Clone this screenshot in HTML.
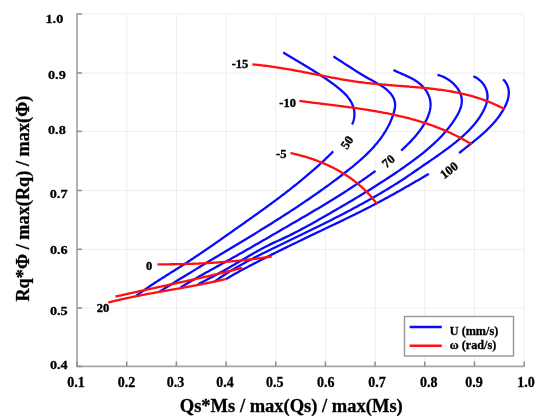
<!DOCTYPE html>
<html><head><meta charset="utf-8"><title>Contour plot</title>
<style>
html,body{margin:0;padding:0;background:#fff;}
body{width:550px;height:419px;overflow:hidden;}
svg{display:block;}
text{font-family:"Liberation Serif","Times New Roman",serif;font-weight:bold;fill:#000;stroke:#000;stroke-width:0.3px;}
.tk{font-size:14px;}
.lg{font-size:12.2px;}
.cl{font-size:12.5px;stroke:#000;stroke-width:0.35px;}
.ti{font-size:18.5px;}
.tiy{font-size:18.3px;}
</style></head><body>
<svg width="550" height="419" viewBox="0 0 550 419">
<g stroke="#eeeeee" stroke-width="1"><line x1="126.7" y1="14.0" x2="126.7" y2="366.4"/><line x1="176.4" y1="14.0" x2="176.4" y2="366.4"/><line x1="226.1" y1="14.0" x2="226.1" y2="366.4"/><line x1="275.8" y1="14.0" x2="275.8" y2="366.4"/><line x1="325.4" y1="14.0" x2="325.4" y2="366.4"/><line x1="375.1" y1="14.0" x2="375.1" y2="366.4"/><line x1="424.8" y1="14.0" x2="424.8" y2="366.4"/><line x1="474.5" y1="14.0" x2="474.5" y2="366.4"/><line x1="524.2" y1="14.0" x2="524.2" y2="366.4"/><line x1="77.0" y1="14.0" x2="524.2" y2="14.0"/><line x1="77.0" y1="73.0" x2="524.2" y2="73.0"/><line x1="77.0" y1="131.4" x2="524.2" y2="131.4"/><line x1="77.0" y1="190.5" x2="524.2" y2="190.5"/><line x1="77.0" y1="249.3" x2="524.2" y2="249.3"/><line x1="77.0" y1="308.0" x2="524.2" y2="308.0"/></g>
<g fill="none" stroke="#0a0aff" stroke-width="2.3" stroke-linecap="butt" stroke-linejoin="round"><path d="M283.21,52.49L283.79,52.85L284.37,53.20L284.96,53.55L285.54,53.90L286.12,54.25L286.71,54.60L287.29,54.95L287.88,55.30L288.46,55.65L289.04,56.00L289.63,56.34L290.21,56.69L290.79,57.04L291.38,57.39L291.96,57.73L292.54,58.08L293.13,58.42L293.71,58.77L294.29,59.12L294.87,59.46L295.46,59.81L296.04,60.15L296.62,60.50L297.20,60.84L297.79,61.19L298.37,61.54L298.95,61.88L299.53,62.23L300.12,62.57L300.70,62.92L301.28,63.27L301.86,63.62L302.44,63.96L303.02,64.31L303.60,64.66L304.18,65.01L304.76,65.36L305.34,65.71L305.92,66.06L306.50,66.41L307.08,66.76L307.66,67.11L308.24,67.46L308.82,67.81L309.40,68.17L309.97,68.52L310.55,68.88L311.13,69.23L311.71,69.59L312.28,69.95L312.86,70.31L313.43,70.67L314.01,71.03L314.59,71.39L315.16,71.75L315.74,72.12L316.31,72.48L316.88,72.85L317.46,73.21L318.03,73.58L318.60,73.95L319.18,74.32L319.75,74.69L320.32,75.07L320.89,75.44L321.46,75.82L322.03,76.20L322.60,76.57L323.17,76.95L323.74,77.34L324.31,77.72L324.88,78.11L325.44,78.49L326.01,78.88L326.58,79.27L327.14,79.66L327.71,80.05L328.27,80.45L328.84,80.85L329.40,81.25L329.96,81.65L330.53,82.05L331.09,82.45L331.65,82.86L332.21,83.27L332.77,83.68L333.33,84.09L333.89,84.50L334.45,84.92L335.01,85.34L335.56,85.76L336.11,86.19L336.67,86.61L337.21,87.04L337.76,87.47L338.30,87.91L338.84,88.35L339.37,88.79L339.90,89.23L340.43,89.68L340.95,90.13L341.47,90.58L341.98,91.04L342.48,91.50L342.98,91.97L343.48,92.44L343.96,92.91L344.44,93.39L344.91,93.87L345.38,94.36L345.84,94.84L346.28,95.34L346.72,95.84L347.16,96.34L347.58,96.85L347.99,97.36L348.40,97.88L348.79,98.40L349.17,98.93L349.55,99.46L349.91,100.00L350.26,100.55L350.60,101.10L350.92,101.65L351.24,102.21L351.54,102.78L351.83,103.35L352.11,103.92L352.37,104.51L352.62,105.09L352.85,105.69L353.07,106.28L353.28,106.89L353.47,107.50L353.64,108.11L353.80,108.73L353.94,109.36L354.06,109.99L354.17,110.63L354.25,111.27L354.33,111.92L354.38,112.57L354.41,113.23L354.42,113.89L354.42,114.56L354.39,115.24L354.35,115.92L354.28,116.61L354.20,117.30L354.09,118.00L353.96,118.70L353.81,119.41L353.63,120.12L353.44,120.84L353.22,121.57L352.98,122.30L352.71,123.03L352.42,123.77L352.10,124.52"/><path d="M333.22,151.42L332.13,152.52L331.03,153.61L329.93,154.69L328.83,155.77L327.72,156.85L326.61,157.92L325.49,158.98L324.37,160.05L323.24,161.10L322.11,162.15L320.98,163.20L319.84,164.25L318.70,165.28L317.56,166.32L316.41,167.35L315.26,168.38L314.10,169.40L312.94,170.42L311.78,171.43L310.62,172.44L309.45,173.45L308.28,174.45L307.10,175.45L305.92,176.44L304.74,177.44L303.55,178.42L302.37,179.41L301.17,180.39L299.98,181.37L298.78,182.34L297.59,183.32L296.38,184.28L295.18,185.25L293.97,186.21L292.76,187.17L291.55,188.13L290.33,189.08L289.12,190.03L287.90,190.98L286.68,191.93L285.45,192.87L284.23,193.81L283.00,194.75L281.77,195.68L280.54,196.62L279.30,197.55L278.07,198.47L276.83,199.40L275.59,200.33L274.35,201.25L273.11,202.17L271.87,203.09L270.62,204.00L269.38,204.92L268.13,205.83L266.88,206.74L265.63,207.65L264.38,208.56L263.12,209.47L261.87,210.37L260.62,211.28L259.36,212.18L258.10,213.08L256.85,213.98L255.59,214.88L254.33,215.78L253.07,216.68L251.81,217.57L250.55,218.47L249.29,219.36L248.03,220.26L246.77,221.15L245.50,222.04L244.24,222.94L242.98,223.83L241.72,224.72L240.45,225.61L239.19,226.50L237.93,227.39L236.67,228.28L235.40,229.17L234.14,230.06L232.88,230.95L231.62,231.84L230.36,232.73L229.09,233.62L227.83,234.51L226.57,235.40L225.31,236.28L224.05,237.17L222.78,238.06L221.52,238.94L220.26,239.83L218.99,240.71L217.73,241.59L216.46,242.48L215.20,243.36L213.93,244.24L212.67,245.12L211.40,246.00L210.13,246.87L208.86,247.75L207.59,248.62L206.32,249.49L205.05,250.36L203.77,251.23L202.50,252.10L201.23,252.97L199.95,253.83L198.67,254.69L197.39,255.55L196.11,256.41L194.83,257.27L193.54,258.12L192.26,258.97L190.97,259.82L189.68,260.67L188.39,261.51L187.10,262.36L185.81,263.20L184.51,264.04L183.21,264.87L181.91,265.70L180.61,266.53L179.31,267.36L178.01,268.19L176.70,269.02L175.40,269.84L174.09,270.66L172.78,271.48L171.47,272.31L170.16,273.13L168.86,273.95L167.55,274.77L166.24,275.59L164.93,276.41L163.63,277.24L162.32,278.06L161.02,278.89L159.71,279.72L158.41,280.56L157.11,281.39L155.82,282.23L154.53,283.07L153.23,283.92L151.95,284.77L150.66,285.63L149.38,286.49L148.10,287.36L146.83,288.23L145.56,289.11L144.30,289.99L143.04,290.88L141.78,291.78L140.53,292.68L139.29,293.60L138.05,294.52L136.81,295.44L135.59,296.38"/><path d="M333.40,56.40L335.50,57.75L337.58,59.10L339.65,60.44L341.71,61.78L343.75,63.11L345.79,64.43L347.82,65.74L349.85,67.04L351.88,68.34L353.90,69.63L355.94,70.91L357.98,72.18L360.03,73.44L362.09,74.69L364.16,75.94L366.25,77.17L368.36,78.40L370.49,79.61L372.65,80.82L374.82,82.02L377.01,83.23L379.18,84.47L381.32,85.78L383.41,87.15L385.43,88.63L387.36,90.23L389.17,91.97L390.85,93.85L392.32,95.85L393.53,97.97L394.43,100.18L394.96,102.46L395.13,104.80L394.98,107.18L394.58,109.57L393.99,111.96L393.26,114.33L392.45,116.66L391.58,118.95L390.64,121.20L389.63,123.41L388.57,125.57L387.45,127.71L386.28,129.80L385.05,131.86L383.76,133.88L382.43,135.87L381.05,137.82L379.62,139.75L378.14,141.64L376.63,143.51L375.07,145.34L373.47,147.15L371.84,148.93L370.17,150.69L368.47,152.42L366.74,154.13L364.98,155.82L363.20,157.49L361.39,159.13L359.55,160.76L357.70,162.37L355.82,163.97L353.93,165.55L352.02,167.11L350.10,168.66L348.17,170.20L346.23,171.72L344.28,173.24L342.33,174.75L340.38,176.24L338.41,177.73L336.45,179.22L334.48,180.69L332.51,182.16L330.53,183.61L328.55,185.06L326.57,186.51L324.58,187.94L322.59,189.37L320.60,190.79L318.60,192.21L316.60,193.61L314.59,195.01L312.58,196.41L310.57,197.80L308.56,199.18L306.54,200.55L304.52,201.92L302.50,203.29L300.47,204.65L298.45,206.00L296.42,207.35L294.38,208.69L292.35,210.03L290.31,211.36L288.26,212.69L286.22,214.01L284.17,215.33L282.13,216.64L280.08,217.95L278.02,219.26L275.97,220.56L273.91,221.86L271.85,223.16L269.79,224.45L267.73,225.74L265.66,227.02L263.60,228.30L261.53,229.58L259.46,230.86L257.39,232.13L255.32,233.40L253.24,234.67L251.17,235.94L249.09,237.21L247.01,238.47L244.94,239.73L242.86,240.99L240.77,242.25L238.69,243.51L236.61,244.76L234.53,246.02L232.44,247.27L230.36,248.53L228.27,249.78L226.18,251.03L224.10,252.28L222.01,253.54L219.92,254.79L217.83,256.04L215.74,257.29L213.65,258.55L211.57,259.80L209.48,261.06L207.39,262.31L205.30,263.57L203.21,264.83L201.12,266.08L199.03,267.35L196.94,268.61L194.85,269.87L192.77,271.14L190.68,272.41L188.59,273.68L186.51,274.95L184.42,276.22L182.34,277.50L180.25,278.78L178.17,280.07L176.09,281.35L174.00,282.64L171.92,283.94L169.85,285.23L167.77,286.53L165.69,287.84L163.61,289.14L161.54,290.46L159.47,291.77"/><path d="M393.40,69.91L393.96,70.21L394.52,70.50L395.10,70.79L395.68,71.07L396.27,71.36L396.87,71.64L397.47,71.92L398.09,72.20L398.71,72.47L399.33,72.75L399.96,73.03L400.60,73.31L401.24,73.59L401.88,73.87L402.53,74.15L403.18,74.43L403.84,74.71L404.49,75.00L405.15,75.29L405.80,75.58L406.46,75.88L407.12,76.18L407.78,76.48L408.43,76.79L409.09,77.11L409.74,77.43L410.39,77.75L411.03,78.08L411.68,78.42L412.32,78.76L412.95,79.11L413.58,79.47L414.20,79.84L414.82,80.21L415.43,80.59L416.03,80.98L416.63,81.38L417.21,81.79L417.79,82.21L418.36,82.64L418.92,83.08L419.47,83.53L420.02,83.99L420.55,84.45L421.07,84.92L421.58,85.41L422.08,85.90L422.57,86.40L423.04,86.90L423.51,87.42L423.96,87.94L424.40,88.47L424.83,89.00L425.24,89.55L425.64,90.10L426.03,90.65L426.40,91.22L426.76,91.79L427.11,92.36L427.44,92.94L427.76,93.53L428.06,94.12L428.34,94.72L428.61,95.32L428.86,95.93L429.10,96.54L429.32,97.15L429.52,97.78L429.71,98.40L429.88,99.03L430.03,99.66L430.16,100.30L430.27,100.94L430.37,101.58L430.44,102.23L430.50,102.87L430.53,103.53L430.55,104.18L430.55,104.84L430.53,105.49L430.50,106.15L430.44,106.82L430.37,107.48L430.28,108.14L430.18,108.81L430.06,109.47L429.93,110.14L429.78,110.80L429.61,111.47L429.43,112.14L429.24,112.80L429.04,113.47L428.82,114.13L428.59,114.79L428.34,115.46L428.09,116.12L427.83,116.77L427.55,117.43L427.26,118.09L426.97,118.74L426.66,119.39L426.34,120.03L426.02,120.68L425.69,121.32L425.35,121.96L425.00,122.59L424.65,123.22L424.28,123.84L423.92,124.47L423.54,125.08L423.16,125.69L422.78,126.30L422.39,126.90L422.00,127.50L421.60,128.09L421.19,128.68L420.79,129.27L420.37,129.84L419.96,130.42L419.54,130.99L419.11,131.56L418.68,132.12L418.25,132.68L417.81,133.23L417.37,133.78L416.93,134.33L416.48,134.87L416.03,135.41L415.58,135.94L415.13,136.47L414.67,137.00L414.21,137.53L413.74,138.05L413.28,138.56L412.81,139.08L412.34,139.59L411.87,140.10L411.39,140.60L410.92,141.10L410.44,141.60L409.96,142.10L409.48,142.59L408.99,143.08L408.51,143.57L408.03,144.05L407.54,144.53L407.06,145.01L406.57,145.49L406.08,145.97L405.59,146.44L405.11,146.91L404.62,147.38L404.13,147.84L403.64,148.31L403.15,148.77L402.67,149.23L402.18,149.69L401.69,150.14L401.21,150.60"/><path d="M375.49,170.89L374.34,171.74L373.19,172.59L372.04,173.43L370.88,174.27L369.72,175.10L368.56,175.93L367.40,176.76L366.23,177.58L365.06,178.40L363.89,179.22L362.72,180.04L361.54,180.85L360.37,181.66L359.19,182.46L358.01,183.26L356.82,184.06L355.64,184.86L354.45,185.65L353.26,186.45L352.07,187.23L350.88,188.02L349.69,188.80L348.49,189.58L347.30,190.36L346.10,191.14L344.90,191.91L343.69,192.68L342.49,193.45L341.29,194.21L340.08,194.98L338.87,195.74L337.66,196.50L336.45,197.25L335.24,198.01L334.02,198.76L332.81,199.51L331.59,200.26L330.38,201.01L329.16,201.76L327.94,202.50L326.72,203.25L325.50,203.99L324.27,204.73L323.05,205.46L321.83,206.20L320.60,206.94L319.37,207.67L318.15,208.40L316.92,209.13L315.69,209.86L314.46,210.59L313.23,211.32L312.00,212.05L310.77,212.77L309.53,213.50L308.30,214.22L307.07,214.94L305.83,215.67L304.60,216.39L303.36,217.11L302.13,217.83L300.89,218.55L299.66,219.27L298.42,219.99L297.18,220.71L295.95,221.42L294.71,222.14L293.47,222.86L292.24,223.58L291.00,224.29L289.76,225.01L288.52,225.73L287.29,226.44L286.05,227.16L284.81,227.88L283.58,228.59L282.34,229.31L281.10,230.03L279.87,230.75L278.63,231.46L277.39,232.18L276.16,232.90L274.92,233.62L273.69,234.34L272.45,235.06L271.21,235.78L269.98,236.50L268.74,237.21L267.51,237.93L266.27,238.65L265.03,239.37L263.80,240.08L262.56,240.80L261.32,241.52L260.09,242.23L258.85,242.95L257.61,243.66L256.37,244.37L255.13,245.09L253.90,245.80L252.66,246.51L251.42,247.22L250.18,247.93L248.94,248.64L247.70,249.35L246.45,250.06L245.21,250.76L243.97,251.47L242.73,252.17L241.49,252.88L240.24,253.58L239.00,254.29L237.75,254.99L236.51,255.69L235.27,256.39L234.02,257.09L232.77,257.79L231.53,258.49L230.28,259.19L229.04,259.89L227.79,260.58L226.54,261.28L225.29,261.98L224.05,262.67L222.80,263.36L221.55,264.06L220.30,264.75L219.05,265.44L217.80,266.13L216.55,266.82L215.30,267.52L214.05,268.21L212.80,268.90L211.55,269.59L210.30,270.28L209.05,270.98L207.80,271.67L206.55,272.36L205.30,273.06L204.06,273.75L202.81,274.45L201.56,275.15L200.32,275.85L199.07,276.55L197.83,277.26L196.59,277.96L195.35,278.67L194.11,279.38L192.87,280.09L191.64,280.81L190.40,281.52L189.17,282.24L187.94,282.97L186.71,283.69L185.48,284.42L184.25,285.15L183.03,285.89L181.80,286.63L180.58,287.37"/><path d="M437.49,74.91L439.69,75.47L441.87,76.22L444.02,77.14L446.13,78.22L448.18,79.46L450.14,80.84L452.02,82.34L453.77,83.96L455.40,85.69L456.89,87.50L458.21,89.40L459.35,91.37L460.30,93.39L461.03,95.46L461.54,97.56L461.80,99.69L461.80,101.83L461.56,103.97L461.11,106.11L460.47,108.24L459.66,110.36L458.70,112.47L457.62,114.56L456.45,116.62L455.20,118.65L453.90,120.64L452.57,122.59L451.20,124.50L449.80,126.38L448.37,128.22L446.90,130.02L445.41,131.79L443.89,133.53L442.34,135.24L440.76,136.92L439.16,138.57L437.53,140.20L435.88,141.79L434.21,143.36L432.52,144.91L430.81,146.44L429.08,147.95L427.34,149.43L425.57,150.90L423.80,152.35L422.01,153.78L420.20,155.20L418.39,156.60L416.56,157.99L414.73,159.37L412.89,160.74L411.04,162.10L409.18,163.46L407.32,164.80L405.45,166.14L403.57,167.47L401.69,168.79L399.81,170.10L397.91,171.40L396.01,172.70L394.11,173.99L392.20,175.27L390.29,176.55L388.37,177.82L386.45,179.08L384.52,180.34L382.59,181.59L380.65,182.83L378.71,184.07L376.77,185.30L374.82,186.53L372.87,187.75L370.92,188.97L368.96,190.18L367.00,191.39L365.04,192.59L363.07,193.79L361.10,194.98L359.13,196.17L357.16,197.36L355.18,198.54L353.20,199.72L351.22,200.89L349.24,202.07L347.26,203.23L345.27,204.40L343.29,205.56L341.30,206.72L339.31,207.88L337.32,209.04L335.33,210.19L333.34,211.34L331.34,212.49L329.35,213.64L327.36,214.79L325.36,215.93L323.37,217.08L321.37,218.22L319.38,219.36L317.38,220.50L315.38,221.63L313.38,222.76L311.37,223.88L309.36,224.99L307.35,226.10L305.34,227.21L303.32,228.30L301.30,229.38L299.27,230.46L297.23,231.52L295.19,232.58L293.14,233.62L291.09,234.65L289.03,235.66L286.96,236.66L284.88,237.65L282.80,238.62L280.71,239.58L278.60,240.52L276.50,241.45L274.41,242.41L272.32,243.38L270.25,244.38L268.19,245.41L266.14,246.45L264.10,247.51L262.08,248.59L260.05,249.68L258.04,250.79L256.03,251.91L254.03,253.04L252.04,254.19L250.04,255.34L248.06,256.50L246.07,257.66L244.09,258.83L242.11,260.00L240.13,261.17L238.14,262.34L236.16,263.51L234.18,264.68L232.19,265.84L230.20,266.99L228.21,268.14L226.21,269.28L224.20,270.41L222.19,271.52L220.17,272.62L218.15,273.72L216.12,274.80L214.09,275.87L212.06,276.94L210.03,278.01L208.01,279.08L205.99,280.15L203.97,281.22L201.97,282.29L199.97,283.38L197.98,284.47"/><path d="M473.28,76.29L475.50,77.31L477.57,78.55L479.47,79.97L481.20,81.57L482.74,83.31L484.09,85.18L485.23,87.15L486.15,89.20L486.84,91.31L487.29,93.46L487.50,95.63L487.47,97.80L487.22,99.97L486.78,102.13L486.17,104.28L485.41,106.42L484.52,108.53L483.52,110.61L482.42,112.65L481.26,114.65L480.03,116.60L478.74,118.51L477.40,120.38L476.01,122.22L474.57,124.01L473.08,125.77L471.54,127.49L469.97,129.18L468.37,130.83L466.73,132.45L465.06,134.04L463.36,135.61L461.65,137.14L459.91,138.65L458.16,140.13L456.40,141.60L454.62,143.03L452.83,144.45L451.03,145.85L449.23,147.23L447.41,148.59L445.59,149.94L443.76,151.28L441.92,152.60L440.07,153.92L438.22,155.22L436.36,156.52L434.50,157.82L432.63,159.11L430.76,160.40L428.89,161.68L427.02,162.97L425.14,164.26L423.26,165.56L421.39,166.85L419.51,168.15L417.62,169.45L415.74,170.75L413.85,172.04L411.96,173.33L410.07,174.62L408.17,175.90L406.27,177.18L404.36,178.44L402.45,179.70L400.53,180.95L398.60,182.19L396.68,183.42L394.74,184.64L392.81,185.85L390.86,187.06L388.92,188.25L386.97,189.44L385.01,190.62L383.05,191.80L381.09,192.96L379.12,194.12L377.15,195.27L375.17,196.42L373.19,197.56L371.21,198.69L369.22,199.81L367.23,200.93L365.24,202.04L363.24,203.15L361.24,204.25L359.24,205.35L357.23,206.43L355.22,207.52L353.21,208.60L351.20,209.67L349.18,210.74L347.16,211.80L345.14,212.86L343.11,213.91L341.08,214.96L339.05,216.01L337.02,217.05L334.99,218.09L332.95,219.12L330.91,220.16L328.87,221.18L326.83,222.21L324.78,223.23L322.74,224.25L320.69,225.26L318.65,226.27L316.60,227.28L314.55,228.29L312.49,229.30L310.44,230.30L308.39,231.30L306.33,232.30L304.28,233.30L302.22,234.30L300.16,235.30L298.11,236.29L296.05,237.28L293.99,238.28L291.93,239.27L289.88,240.26L287.82,241.25L285.76,242.25L283.70,243.24L281.64,244.23L279.59,245.22L277.53,246.21L275.47,247.21L273.42,248.20L271.36,249.20L269.31,250.20L267.26,251.21L265.21,252.22L263.17,253.23L261.13,254.25L259.09,255.28L257.06,256.31L255.03,257.35L253.00,258.40L250.98,259.46L248.97,260.52L246.96,261.60L244.96,262.68L242.96,263.78L240.97,264.89L238.99,266.01L237.01,267.15L235.04,268.30L233.08,269.46L231.13,270.64L229.19,271.83L227.25,273.04L225.33,274.27L223.42,275.51L221.51,276.77L219.62,278.05L217.73,279.35L215.86,280.67L214.00,282.01"/><path d="M503.12,79.27L503.60,79.77L504.05,80.27L504.48,80.78L504.89,81.29L505.28,81.81L505.64,82.33L505.98,82.85L506.30,83.37L506.60,83.90L506.88,84.43L507.14,84.96L507.37,85.50L507.59,86.04L507.79,86.58L507.97,87.13L508.13,87.67L508.28,88.22L508.40,88.77L508.51,89.32L508.60,89.88L508.67,90.43L508.73,90.99L508.77,91.55L508.80,92.10L508.81,92.66L508.80,93.23L508.78,93.79L508.75,94.35L508.70,94.91L508.63,95.48L508.56,96.04L508.47,96.60L508.37,97.17L508.25,97.73L508.12,98.30L507.98,98.86L507.83,99.42L507.67,99.98L507.50,100.55L507.32,101.11L507.12,101.67L506.92,102.23L506.71,102.78L506.49,103.34L506.26,103.89L506.02,104.45L505.77,105.00L505.52,105.55L505.26,106.09L504.99,106.64L504.72,107.18L504.43,107.72L504.15,108.26L503.85,108.80L503.56,109.33L503.25,109.86L502.94,110.39L502.63,110.91L502.32,111.43L501.99,111.95L501.67,112.46L501.34,112.97L501.01,113.48L500.67,113.99L500.33,114.49L499.98,114.99L499.64,115.49L499.28,115.98L498.93,116.47L498.57,116.96L498.20,117.45L497.84,117.93L497.47,118.41L497.09,118.89L496.72,119.36L496.34,119.83L495.95,120.30L495.57,120.77L495.18,121.24L494.78,121.70L494.39,122.16L493.99,122.62L493.59,123.07L493.18,123.52L492.78,123.98L492.37,124.42L491.95,124.87L491.54,125.31L491.12,125.76L490.70,126.19L490.28,126.63L489.85,127.07L489.43,127.50L489.00,127.93L488.57,128.36L488.13,128.79L487.70,129.21L487.26,129.64L486.82,130.06L486.38,130.48L485.94,130.90L485.49,131.31L485.05,131.73L484.60,132.14L484.15,132.55L483.70,132.96L483.24,133.37L482.79,133.77L482.33,134.18L481.88,134.58L481.42,134.98L480.96,135.38L480.50,135.78L480.04,136.18L479.57,136.58L479.11,136.97L478.65,137.36L478.18,137.76L477.71,138.15L477.25,138.54L476.78,138.92L476.31,139.31L475.84,139.70L475.38,140.08L474.91,140.46L474.44,140.85L473.97,141.23L473.50,141.61L473.03,141.99L472.55,142.37L472.08,142.75L471.61,143.12L471.14,143.50L470.67,143.88L470.20,144.25L469.73,144.62L469.26,145.00L468.79,145.37L468.32,145.74L467.85,146.11L467.38,146.48L466.92,146.85L466.45,147.22L465.98,147.59L465.52,147.96L465.05,148.33L464.59,148.70L464.13,149.07L463.66,149.43L463.20,149.80L462.74,150.17L462.28,150.53L461.83,150.90L461.37,151.27L460.91,151.63L460.46,152.00L460.01,152.36L459.56,152.73L459.11,153.10"/><path d="M428.89,173.88L427.64,174.60L426.39,175.33L425.14,176.05L423.90,176.77L422.65,177.50L421.40,178.22L420.15,178.94L418.91,179.67L417.66,180.39L416.41,181.11L415.16,181.83L413.91,182.55L412.66,183.27L411.41,183.99L410.16,184.71L408.91,185.43L407.66,186.15L406.41,186.86L405.16,187.58L403.91,188.29L402.66,189.00L401.40,189.71L400.15,190.42L398.89,191.13L397.64,191.84L396.38,192.54L395.13,193.25L393.87,193.95L392.61,194.65L391.35,195.35L390.09,196.05L388.83,196.74L387.56,197.44L386.30,198.13L385.04,198.82L383.77,199.51L382.50,200.19L381.24,200.87L379.97,201.55L378.69,202.23L377.42,202.91L376.15,203.58L374.88,204.25L373.60,204.92L372.32,205.58L371.04,206.25L369.76,206.91L368.48,207.57L367.20,208.22L365.91,208.88L364.63,209.53L363.34,210.18L362.06,210.82L360.77,211.47L359.48,212.11L358.19,212.76L356.90,213.40L355.61,214.03L354.31,214.67L353.02,215.31L351.72,215.94L350.43,216.57L349.13,217.20L347.84,217.84L346.54,218.46L345.24,219.09L343.94,219.72L342.64,220.35L341.34,220.97L340.04,221.60L338.74,222.22L337.44,222.84L336.14,223.47L334.84,224.09L333.54,224.71L332.23,225.33L330.93,225.95L329.63,226.57L328.33,227.19L327.02,227.81L325.72,228.44L324.42,229.06L323.12,229.68L321.81,230.30L320.51,230.92L319.21,231.54L317.91,232.16L316.60,232.79L315.30,233.41L314.00,234.03L312.70,234.65L311.39,235.28L310.09,235.90L308.79,236.53L307.49,237.15L306.19,237.78L304.89,238.40L303.59,239.03L302.28,239.65L300.98,240.28L299.68,240.91L298.38,241.53L297.08,242.16L295.79,242.79L294.49,243.42L293.19,244.05L291.89,244.68L290.59,245.32L289.29,245.95L288.00,246.58L286.70,247.21L285.40,247.85L284.11,248.48L282.81,249.12L281.52,249.76L280.22,250.40L278.93,251.04L277.64,251.68L276.34,252.32L275.05,252.96L273.76,253.60L272.47,254.24L271.18,254.89L269.89,255.53L268.60,256.18L267.31,256.83L266.02,257.48L264.74,258.13L263.45,258.78L262.17,259.43L260.88,260.09L259.60,260.74L258.31,261.40L257.03,262.06L255.75,262.72L254.47,263.38L253.19,264.04L251.91,264.70L250.63,265.37L249.36,266.04L248.08,266.71L246.81,267.39L245.54,268.06L244.27,268.74L243.00,269.42L241.74,270.11L240.47,270.80L239.21,271.49L237.95,272.19L236.69,272.89L235.44,273.59L234.18,274.30L232.93,275.01L231.68,275.73L230.44,276.45L229.20,277.17L227.96,277.90L226.72,278.63L225.49,279.37"/></g>
<g fill="none" stroke="#ff1010" stroke-width="2.3" stroke-linecap="butt" stroke-linejoin="round"><path d="M252.31,64.41L253.93,64.55L255.55,64.69L257.16,64.85L258.77,65.01L260.39,65.18L262.00,65.36L263.60,65.54L265.21,65.74L266.82,65.94L268.42,66.15L270.03,66.36L271.63,66.59L273.23,66.81L274.83,67.05L276.43,67.29L278.02,67.53L279.62,67.79L281.22,68.04L282.81,68.30L284.40,68.57L286.00,68.84L287.59,69.12L289.18,69.39L290.77,69.68L292.36,69.96L293.95,70.25L295.54,70.54L297.13,70.84L298.72,71.14L300.30,71.44L301.89,71.74L303.48,72.04L305.06,72.35L306.65,72.66L308.24,72.96L309.82,73.27L311.41,73.58L312.99,73.89L314.58,74.20L316.16,74.51L317.75,74.82L319.34,75.13L320.92,75.44L322.51,75.75L324.10,76.06L325.68,76.36L327.27,76.67L328.86,76.97L330.45,77.27L332.04,77.56L333.63,77.86L335.22,78.15L336.81,78.44L338.40,78.72L339.99,79.01L341.58,79.28L343.18,79.56L344.77,79.83L346.37,80.09L347.96,80.35L349.56,80.61L351.16,80.86L352.76,81.10L354.36,81.34L355.96,81.57L357.56,81.80L359.17,82.02L360.78,82.24L362.38,82.44L363.99,82.64L365.60,82.84L367.21,83.02L368.83,83.20L370.44,83.38L372.05,83.55L373.67,83.71L375.29,83.87L376.90,84.03L378.52,84.18L380.14,84.33L381.76,84.47L383.38,84.61L385.00,84.75L386.62,84.88L388.24,85.02L389.86,85.15L391.49,85.27L393.11,85.40L394.73,85.53L396.35,85.65L397.97,85.78L399.60,85.90L401.22,86.02L402.84,86.15L404.46,86.27L406.08,86.40L407.70,86.52L409.32,86.65L410.94,86.78L412.56,86.91L414.18,87.05L415.79,87.18L417.41,87.32L419.02,87.47L420.64,87.61L422.25,87.76L423.86,87.92L425.47,88.08L427.08,88.24L428.69,88.41L430.30,88.58L431.90,88.76L433.50,88.95L435.11,89.14L436.71,89.34L438.30,89.55L439.90,89.76L441.49,89.98L443.09,90.21L444.68,90.44L446.26,90.69L447.85,90.94L449.43,91.20L451.02,91.47L452.59,91.75L454.17,92.04L455.74,92.35L457.32,92.66L458.88,92.98L460.45,93.31L462.01,93.66L463.57,94.01L465.13,94.38L466.68,94.76L468.23,95.15L469.78,95.56L471.33,95.98L472.87,96.41L474.41,96.86L475.94,97.32L477.47,97.79L479.00,98.28L480.52,98.78L482.04,99.30L483.56,99.84L485.07,100.39L486.58,100.95L488.08,101.54L489.58,102.14L491.08,102.75L492.57,103.39L494.06,104.04L495.54,104.71L497.02,105.40L498.49,106.10L499.96,106.83L501.43,107.57L502.89,108.34L504.35,109.12"/><path d="M299.41,100.90L300.51,101.05L301.62,101.20L302.73,101.35L303.83,101.49L304.94,101.64L306.05,101.78L307.16,101.92L308.27,102.07L309.38,102.21L310.50,102.35L311.61,102.49L312.72,102.63L313.83,102.77L314.95,102.91L316.06,103.05L317.18,103.18L318.29,103.32L319.41,103.46L320.53,103.60L321.64,103.74L322.76,103.87L323.88,104.01L325.00,104.15L326.11,104.29L327.23,104.43L328.35,104.56L329.47,104.70L330.59,104.84L331.71,104.98L332.83,105.12L333.95,105.26L335.07,105.40L336.19,105.54L337.31,105.68L338.43,105.82L339.55,105.97L340.67,106.11L341.79,106.25L342.91,106.40L344.04,106.54L345.16,106.69L346.28,106.84L347.40,106.99L348.52,107.14L349.64,107.29L350.76,107.44L351.88,107.59L353.00,107.75L354.12,107.91L355.24,108.06L356.36,108.22L357.48,108.38L358.60,108.54L359.72,108.71L360.83,108.87L361.95,109.04L363.07,109.21L364.19,109.38L365.30,109.55L366.42,109.72L367.54,109.90L368.65,110.08L369.77,110.25L370.88,110.44L372.00,110.62L373.11,110.81L374.22,110.99L375.34,111.18L376.45,111.38L377.56,111.57L378.67,111.77L379.78,111.97L380.89,112.17L382.00,112.38L383.11,112.58L384.21,112.79L385.32,113.01L386.43,113.22L387.53,113.44L388.64,113.66L389.74,113.89L390.84,114.11L391.94,114.34L393.04,114.58L394.14,114.81L395.24,115.05L396.34,115.29L397.44,115.54L398.53,115.79L399.63,116.04L400.72,116.30L401.81,116.56L402.90,116.82L403.99,117.08L405.08,117.35L406.17,117.63L407.26,117.90L408.34,118.18L409.43,118.47L410.51,118.76L411.59,119.05L412.68,119.35L413.76,119.65L414.83,119.95L415.91,120.26L416.99,120.57L418.06,120.89L419.13,121.21L420.20,121.53L421.27,121.86L422.34,122.20L423.41,122.53L424.47,122.88L425.54,123.22L426.60,123.57L427.66,123.93L428.72,124.29L429.78,124.66L430.83,125.03L431.89,125.40L432.94,125.78L433.99,126.17L435.04,126.56L436.09,126.95L437.14,127.35L438.18,127.76L439.22,128.17L440.26,128.58L441.30,129.00L442.34,129.43L443.37,129.86L444.41,130.30L445.44,130.74L446.47,131.19L447.49,131.64L448.52,132.10L449.54,132.56L450.56,133.03L451.58,133.51L452.60,133.99L453.61,134.48L454.63,134.97L455.64,135.47L456.65,135.97L457.65,136.49L458.66,137.00L459.66,137.53L460.66,138.06L461.66,138.59L462.65,139.13L463.65,139.68L464.64,140.24L465.63,140.80L466.61,141.37L467.60,141.94L468.58,142.52L469.56,143.11L470.53,143.70L471.51,144.30"/><path d="M290.51,153.07L291.14,153.20L291.76,153.34L292.38,153.47L293.00,153.61L293.63,153.75L294.25,153.89L294.87,154.03L295.49,154.18L296.12,154.33L296.74,154.48L297.36,154.63L297.99,154.79L298.61,154.94L299.23,155.10L299.85,155.27L300.48,155.43L301.10,155.60L301.72,155.77L302.34,155.94L302.96,156.11L303.58,156.29L304.20,156.47L304.83,156.65L305.45,156.83L306.07,157.02L306.69,157.20L307.30,157.39L307.92,157.59L308.54,157.78L309.16,157.98L309.78,158.18L310.39,158.38L311.01,158.59L311.63,158.79L312.24,159.00L312.86,159.21L313.47,159.43L314.09,159.64L314.70,159.86L315.31,160.08L315.92,160.31L316.53,160.53L317.14,160.76L317.75,160.99L318.36,161.22L318.97,161.46L319.58,161.70L320.18,161.94L320.79,162.18L321.39,162.43L322.00,162.67L322.60,162.92L323.20,163.18L323.80,163.43L324.40,163.69L325.00,163.95L325.60,164.21L326.20,164.48L326.79,164.74L327.39,165.01L327.98,165.29L328.57,165.56L329.16,165.84L329.75,166.12L330.34,166.40L330.93,166.68L331.52,166.97L332.10,167.26L332.69,167.55L333.27,167.85L333.85,168.14L334.43,168.44L335.01,168.74L335.58,169.05L336.16,169.35L336.73,169.66L337.31,169.98L337.88,170.29L338.45,170.61L339.02,170.93L339.58,171.25L340.15,171.57L340.71,171.90L341.27,172.23L341.83,172.56L342.39,172.90L342.95,173.23L343.50,173.57L344.06,173.92L344.61,174.26L345.16,174.61L345.71,174.96L346.25,175.31L346.80,175.66L347.34,176.02L347.88,176.38L348.42,176.75L348.96,177.11L349.49,177.48L350.02,177.85L350.55,178.22L351.08,178.60L351.61,178.98L352.14,179.36L352.66,179.74L353.18,180.13L353.70,180.51L354.21,180.91L354.73,181.30L355.24,181.70L355.75,182.09L356.26,182.50L356.76,182.90L357.27,183.31L357.77,183.72L358.27,184.13L358.76,184.54L359.26,184.96L359.75,185.38L360.24,185.80L360.72,186.23L361.21,186.66L361.69,187.09L362.17,187.52L362.65,187.96L363.12,188.40L363.59,188.84L364.06,189.28L364.53,189.73L364.99,190.18L365.45,190.63L365.91,191.08L366.37,191.54L366.82,192.00L367.27,192.46L367.72,192.93L368.16,193.40L368.61,193.87L369.05,194.34L369.48,194.82L369.92,195.30L370.35,195.78L370.78,196.26L371.20,196.75L371.62,197.24L372.04,197.73L372.46,198.23L372.87,198.73L373.28,199.23L373.69,199.73L374.09,200.24L374.49,200.75L374.89,201.26L375.29,201.77L375.68,202.29L376.07,202.81L376.45,203.33L376.83,203.86L377.21,204.39"/><path d="M157.50,264.30L158.22,264.30L158.94,264.30L159.66,264.31L160.39,264.31L161.11,264.31L161.83,264.31L162.55,264.31L163.27,264.31L163.99,264.31L164.71,264.31L165.43,264.31L166.16,264.30L166.88,264.30L167.60,264.30L168.32,264.29L169.04,264.29L169.76,264.28L170.48,264.27L171.21,264.27L171.93,264.26L172.65,264.25L173.37,264.24L174.09,264.23L174.81,264.22L175.53,264.21L176.25,264.20L176.98,264.19L177.70,264.18L178.42,264.16L179.14,264.15L179.86,264.14L180.58,264.12L181.30,264.10L182.02,264.09L182.75,264.07L183.47,264.05L184.19,264.04L184.91,264.02L185.63,264.00L186.35,263.98L187.07,263.96L187.79,263.93L188.51,263.91L189.24,263.89L189.96,263.87L190.68,263.84L191.40,263.82L192.12,263.79L192.84,263.77L193.56,263.74L194.28,263.71L195.00,263.68L195.72,263.66L196.44,263.63L197.16,263.60L197.89,263.57L198.61,263.53L199.33,263.50L200.05,263.47L200.77,263.44L201.49,263.40L202.21,263.37L202.93,263.33L203.65,263.30L204.37,263.26L205.09,263.22L205.81,263.18L206.53,263.14L207.25,263.10L207.97,263.06L208.69,263.02L209.41,262.98L210.13,262.94L210.85,262.90L211.57,262.85L212.29,262.81L213.01,262.76L213.73,262.72L214.45,262.67L215.17,262.62L215.89,262.57L216.61,262.53L217.33,262.48L218.05,262.43L218.77,262.38L219.49,262.32L220.20,262.27L220.92,262.22L221.64,262.16L222.36,262.11L223.08,262.05L223.80,262.00L224.52,261.94L225.24,261.88L225.96,261.83L226.68,261.77L227.39,261.71L228.11,261.65L228.83,261.59L229.55,261.52L230.27,261.46L230.99,261.40L231.70,261.33L232.42,261.27L233.14,261.20L233.86,261.14L234.58,261.07L235.30,261.00L236.01,260.93L236.73,260.86L237.45,260.79L238.17,260.72L238.88,260.65L239.60,260.58L240.32,260.51L241.04,260.43L241.75,260.36L242.47,260.28L243.19,260.20L243.90,260.13L244.62,260.05L245.34,259.97L246.06,259.89L246.77,259.81L247.49,259.73L248.21,259.65L248.92,259.57L249.64,259.48L250.35,259.40L251.07,259.31L251.79,259.23L252.50,259.14L253.22,259.05L253.93,258.97L254.65,258.88L255.37,258.79L256.08,258.70L256.80,258.60L257.51,258.51L258.23,258.42L258.94,258.33L259.66,258.23L260.37,258.14L261.09,258.04L261.80,257.94L262.52,257.84L263.23,257.75L263.95,257.65L264.66,257.55L265.38,257.44L266.09,257.34L266.80,257.24L267.52,257.14L268.23,257.03L268.95,256.93L269.66,256.82L270.37,256.71L271.09,256.60L271.80,256.50"/><path d="M115.50,296.60L116.30,296.42L117.09,296.23L117.89,296.05L118.69,295.87L119.49,295.69L120.28,295.51L121.08,295.33L121.88,295.15L122.68,294.97L123.47,294.79L124.27,294.61L125.07,294.43L125.87,294.25L126.67,294.07L127.46,293.89L128.26,293.71L129.06,293.53L129.86,293.36L130.66,293.18L131.45,293.00L132.25,292.82L133.05,292.65L133.85,292.47L134.65,292.29L135.45,292.12L136.25,291.94L137.05,291.77L137.84,291.59L138.64,291.41L139.44,291.24L140.24,291.06L141.04,290.89L141.84,290.72L142.64,290.54L143.44,290.37L144.24,290.19L145.04,290.02L145.84,289.84L146.64,289.67L147.43,289.50L148.23,289.32L149.03,289.15L149.83,288.98L150.63,288.80L151.43,288.63L152.23,288.46L153.03,288.28L153.83,288.11L154.63,287.94L155.43,287.76L156.23,287.59L157.03,287.42L157.83,287.24L158.63,287.07L159.43,286.90L160.23,286.73L161.03,286.55L161.83,286.38L162.63,286.21L163.43,286.03L164.23,285.86L165.03,285.69L165.82,285.52L166.62,285.34L167.42,285.17L168.22,285.00L169.02,284.82L169.82,284.65L170.62,284.48L171.42,284.30L172.22,284.13L173.02,283.96L173.82,283.78L174.62,283.61L175.42,283.44L176.22,283.26L177.02,283.09L177.82,282.91L178.62,282.74L179.42,282.57L180.21,282.39L181.01,282.22L181.81,282.04L182.61,281.87L183.41,281.69L184.21,281.52L185.01,281.34L185.81,281.17L186.61,280.99L187.41,280.81L188.20,280.64L189.00,280.46L189.80,280.28L190.60,280.11L191.40,279.93L192.20,279.75L193.00,279.57L193.79,279.40L194.59,279.22L195.39,279.04L196.19,278.86L196.99,278.68L197.78,278.50L198.58,278.32L199.38,278.14L200.18,277.96L200.98,277.78L201.77,277.60L202.57,277.42L203.37,277.24L204.17,277.06L204.96,276.87L205.76,276.69L206.56,276.51L207.35,276.33L208.15,276.14L208.95,275.96L209.74,275.77L210.54,275.59L211.34,275.40L212.13,275.22L212.93,275.03L213.73,274.85L214.52,274.66L215.32,274.47L216.11,274.28L216.91,274.10L217.71,273.91L218.50,273.72L219.30,273.53L220.09,273.34L220.89,273.15L221.68,272.96L222.48,272.77L223.27,272.58L224.07,272.38L224.86,272.19L225.65,272.00L226.45,271.80L227.24,271.61L228.04,271.41L228.83,271.22L229.62,271.02L230.42,270.83L231.21,270.63L232.00,270.43L232.80,270.23L233.59,270.03L234.38,269.84L235.18,269.64L235.97,269.44L236.76,269.23L237.55,269.03L238.35,268.83L239.14,268.63L239.93,268.42L240.72,268.22L241.51,268.01L242.30,267.81"/><path d="M108.30,302.50L109.03,302.32L109.76,302.13L110.49,301.95L111.22,301.77L111.95,301.59L112.68,301.41L113.41,301.23L114.14,301.05L114.88,300.88L115.61,300.70L116.34,300.53L117.07,300.36L117.80,300.19L118.54,300.02L119.27,299.85L120.00,299.68L120.74,299.52L121.47,299.35L122.20,299.19L122.94,299.02L123.67,298.86L124.41,298.70L125.14,298.54L125.88,298.38L126.61,298.22L127.35,298.06L128.08,297.91L128.82,297.75L129.55,297.60L130.29,297.44L131.02,297.29L131.76,297.14L132.50,296.99L133.23,296.83L133.97,296.68L134.71,296.54L135.44,296.39L136.18,296.24L136.92,296.09L137.66,295.95L138.39,295.80L139.13,295.66L139.87,295.51L140.61,295.37L141.34,295.23L142.08,295.08L142.82,294.94L143.56,294.80L144.30,294.66L145.04,294.52L145.78,294.38L146.51,294.24L147.25,294.10L147.99,293.97L148.73,293.83L149.47,293.69L150.21,293.55L150.95,293.42L151.69,293.28L152.43,293.15L153.17,293.01L153.91,292.88L154.65,292.74L155.39,292.61L156.13,292.48L156.87,292.34L157.61,292.21L158.35,292.08L159.09,291.94L159.83,291.81L160.57,291.68L161.31,291.55L162.05,291.42L162.79,291.29L163.53,291.15L164.27,291.02L165.01,290.89L165.75,290.76L166.49,290.63L167.23,290.50L167.97,290.37L168.71,290.24L169.45,290.11L170.19,289.98L170.93,289.85L171.67,289.72L172.41,289.59L173.15,289.46L173.89,289.33L174.63,289.19L175.37,289.06L176.11,288.93L176.85,288.80L177.59,288.67L178.33,288.54L179.07,288.41L179.81,288.28L180.55,288.14L181.29,288.01L182.03,287.88L182.77,287.75L183.51,287.61L184.25,287.48L184.99,287.35L185.73,287.21L186.47,287.08L187.21,286.95L187.95,286.81L188.69,286.68L189.43,286.54L190.17,286.40L190.91,286.27L191.65,286.13L192.39,285.99L193.13,285.86L193.87,285.72L194.60,285.58L195.34,285.44L196.08,285.30L196.82,285.16L197.56,285.02L198.30,284.88L199.03,284.74L199.77,284.59L200.51,284.45L201.25,284.31L201.99,284.16L202.72,284.02L203.46,283.87L204.20,283.73L204.93,283.58L205.67,283.43L206.41,283.28L207.14,283.13L207.88,282.98L208.62,282.83L209.35,282.68L210.09,282.53L210.83,282.37L211.56,282.22L212.30,282.06L213.03,281.91L213.77,281.75L214.50,281.59L215.24,281.43L215.97,281.27L216.70,281.11L217.44,280.95L218.17,280.79L218.91,280.62L219.64,280.46L220.37,280.29L221.11,280.13L221.84,279.96L222.57,279.79L223.30,279.62L224.04,279.45L224.77,279.28L225.50,279.10"/></g>
<path d="M77.0,13.5 L77.0,366.4 L524.2,366.4" fill="none" stroke="#a6a6a6" stroke-width="1.7"/>
<g fill="none" stroke="#8e8e8e" stroke-width="1.5"><line x1="77.0" y1="366.4" x2="77.0" y2="361.4"/><line x1="126.7" y1="366.4" x2="126.7" y2="361.4"/><line x1="176.4" y1="366.4" x2="176.4" y2="361.4"/><line x1="226.1" y1="366.4" x2="226.1" y2="361.4"/><line x1="275.8" y1="366.4" x2="275.8" y2="361.4"/><line x1="325.4" y1="366.4" x2="325.4" y2="361.4"/><line x1="375.1" y1="366.4" x2="375.1" y2="361.4"/><line x1="424.8" y1="366.4" x2="424.8" y2="361.4"/><line x1="474.5" y1="366.4" x2="474.5" y2="361.4"/><line x1="524.2" y1="366.4" x2="524.2" y2="361.4"/><line x1="77.0" y1="14.0" x2="82.0" y2="14.0"/><line x1="77.0" y1="73.0" x2="82.0" y2="73.0"/><line x1="77.0" y1="131.4" x2="82.0" y2="131.4"/><line x1="77.0" y1="190.5" x2="82.0" y2="190.5"/><line x1="77.0" y1="249.3" x2="82.0" y2="249.3"/><line x1="77.0" y1="308.0" x2="82.0" y2="308.0"/><line x1="77.0" y1="366.4" x2="82.0" y2="366.4"/></g>
<rect x="404.5" y="316.5" width="109" height="39.5" fill="#fff" stroke="#979797" stroke-width="1.4"/>
<line x1="409.7" y1="327" x2="441.8" y2="327" stroke="#0a0aff" stroke-width="2.5"/>
<line x1="409.7" y1="345.8" x2="441.8" y2="345.8" stroke="#ff1010" stroke-width="2.5"/>
<text x="449.8" y="334.8" class="lg">U (mm/s)</text>
<text x="449.8" y="349.1" class="lg">ω (rad/s)</text>
<text x="76.0" y="387" class="tk" text-anchor="middle">0.1</text>
<text x="126.5" y="387" class="tk" text-anchor="middle">0.2</text>
<text x="175.6" y="387" class="tk" text-anchor="middle">0.3</text>
<text x="225.1" y="387" class="tk" text-anchor="middle">0.4</text>
<text x="274.7" y="387" class="tk" text-anchor="middle">0.5</text>
<text x="325.8" y="387" class="tk" text-anchor="middle">0.6</text>
<text x="377.1" y="387" class="tk" text-anchor="middle">0.7</text>
<text x="428.8" y="387" class="tk" text-anchor="middle">0.8</text>
<text x="474.0" y="387" class="tk" text-anchor="middle">0.9</text>
<text x="526.0" y="387" class="tk" text-anchor="middle">1.0</text>
<text transform="translate(54.4,23.4) scale(1.02,0.92)" x="0" y="0" class="tk" text-anchor="middle">1.0</text>
<text transform="translate(56.9,79.4) scale(1.02,0.92)" x="0" y="0" class="tk" text-anchor="middle">0.9</text>
<text transform="translate(56.9,134.3) scale(1.02,0.92)" x="0" y="0" class="tk" text-anchor="middle">0.8</text>
<text transform="translate(58.6,198.1) scale(1.02,0.92)" x="0" y="0" class="tk" text-anchor="middle">0.7</text>
<text transform="translate(58.8,253.5) scale(1.02,0.92)" x="0" y="0" class="tk" text-anchor="middle">0.6</text>
<text transform="translate(58.8,315.4) scale(1.02,0.92)" x="0" y="0" class="tk" text-anchor="middle">0.5</text>
<text transform="translate(58.8,369.2) scale(1.02,0.92)" x="0" y="0" class="tk" text-anchor="middle">0.4</text>
<text x="240" y="67.6" class="cl" text-anchor="middle">-15</text>
<text x="287.7" y="107" class="cl" text-anchor="middle">-10</text>
<text x="281.2" y="158" class="cl" text-anchor="middle">-5</text>
<text x="149" y="269.7" class="cl" text-anchor="middle">0</text>
<text x="103" y="311.5" class="cl" text-anchor="middle">20</text>
<text transform="translate(347.3,142.5) rotate(-56)" x="0" y="4" class="cl" text-anchor="middle">50</text>
<text transform="translate(388.4,161.3) rotate(-40)" x="0" y="4" class="cl" text-anchor="middle">70</text>
<text transform="translate(449.2,170.3) rotate(-37)" x="0" y="4" class="cl" text-anchor="middle">100</text>
<text x="291.25" y="411.6" class="ti" text-anchor="middle">Qs*Ms / max(Qs) / max(Ms)</text>
<text transform="translate(28.9,198.6) rotate(-90)" x="0" y="0" class="ti tiy" text-anchor="middle">Rq*Φ / max(Rq) / max(Φ)</text>
</svg>
</body></html>
